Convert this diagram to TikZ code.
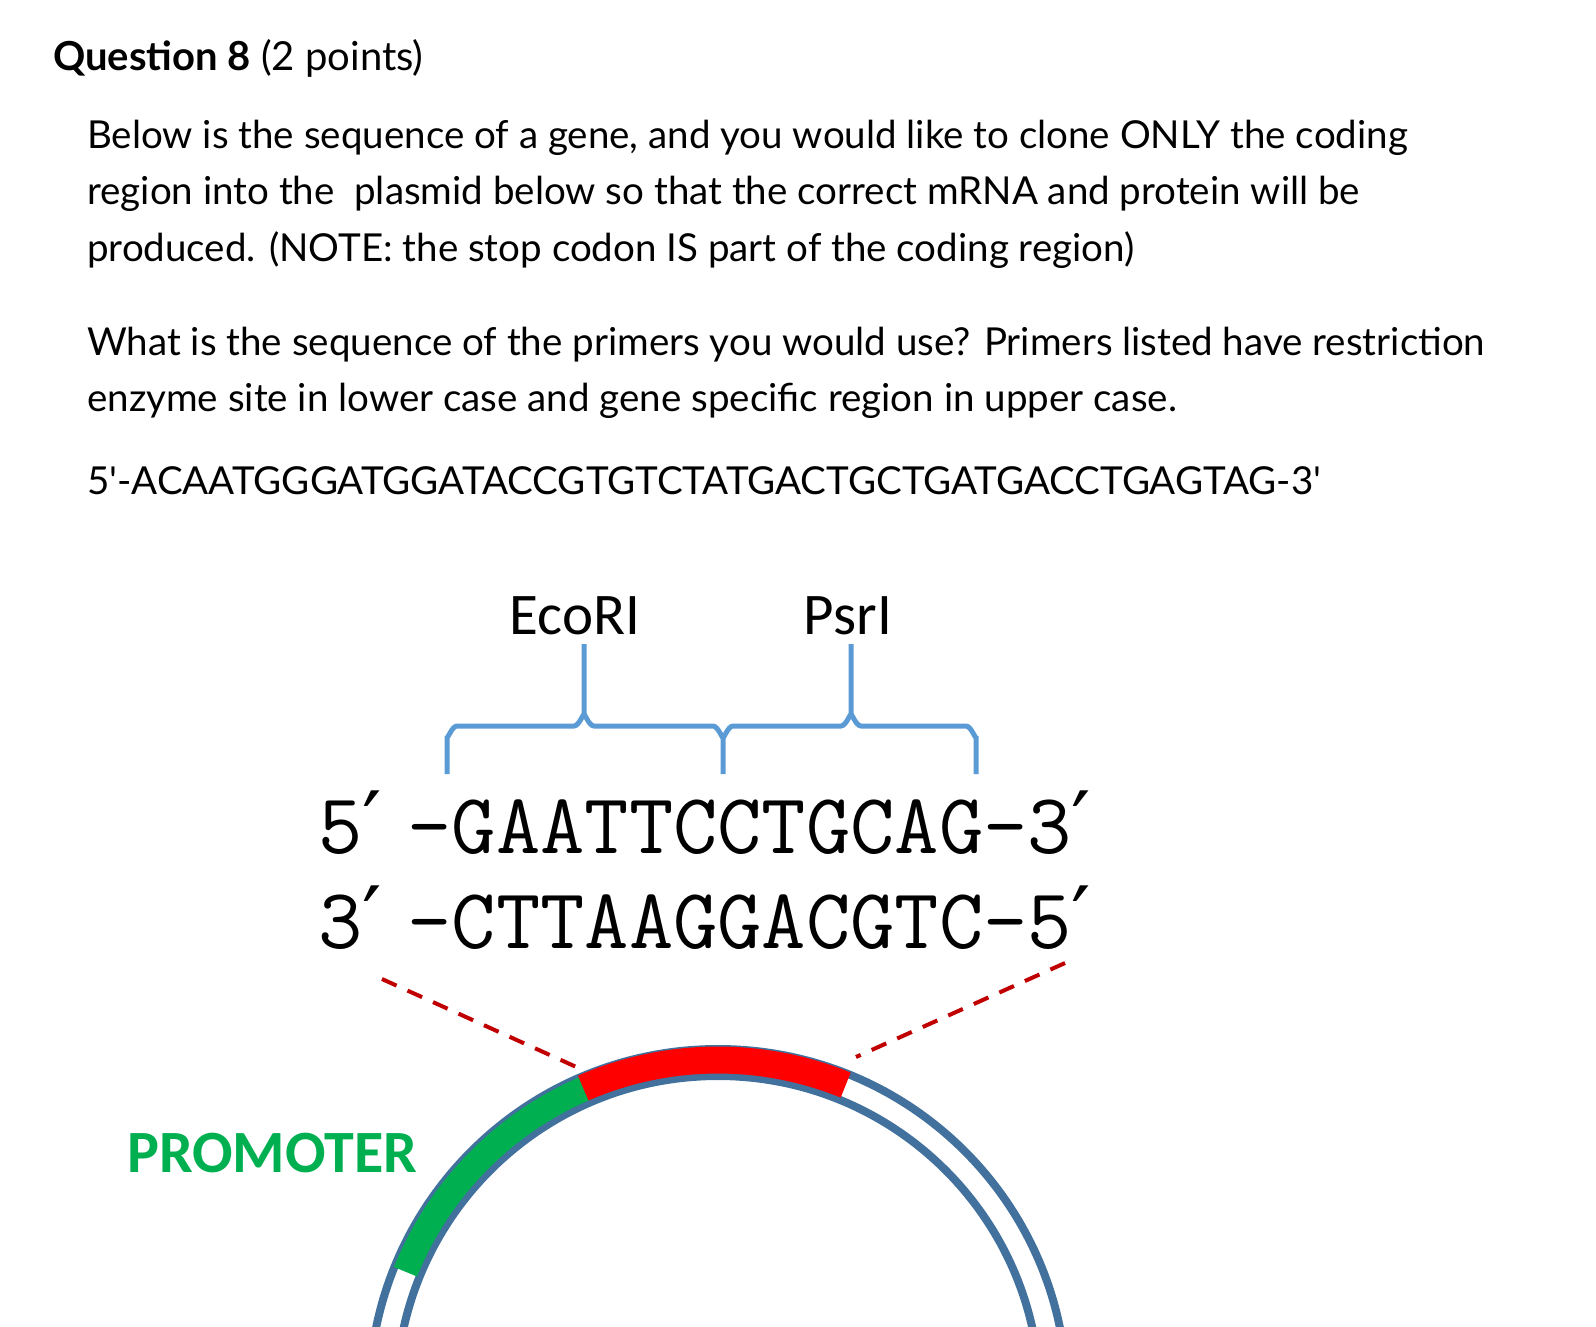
\documentclass[tikz,border=0pt]{standalone}
\usepackage{fontspec}
\defaultfontfeatures{}
\defaultfontfeatures[\rmfamily]{}
\setmainfont{Lato}
\newfontfamily\calib{Carlito}
\newfontfamily\dvs{DejaVu Sans}
\newfontfamily\lmmono{Latin Modern Mono}
\definecolor{braceblue}{HTML}{5B9BD5}
\definecolor{ringblue}{HTML}{41719C}
\definecolor{promgreen}{HTML}{00B050}
\definecolor{dashred}{HTML}{C00000}
\newcommand{\pr}{\makebox[0.525em][l]{\dvs\char"2032}}
\begin{document}
\begin{tikzpicture}[x=1pt,y=-1pt,
  body/.style={anchor=base west,inner sep=0,font=\fontsize{38.5}{40}\selectfont},
  brc/.style={draw=braceblue,line width=5pt},
  ring/.style={draw=ringblue,line width=8pt},
  cut/.style={draw=dashred,line width=4pt,dash pattern=on 16pt off 12pt}]
\useasboundingbox (0,0) rectangle (1596,1326);
\node[body,font=\fontsize{40}{40}\selectfont] (q) at (53,70) {\textbf{Question 8} (2 points)};
\node[body] (l1) at (87,148) {Below is the sequence of a gene, and you would like to clone ONLY the coding};
\node[body] (l2) at (87,204) {region into the\ \ plasmid below so that the correct mRNA and protein will be};
\node[body] (l3) at (87,261) {produced. (NOTE: the stop codon IS part of the coding region)};
\node[body] (l4) at (87,355) {What is the sequence of the primers you would use? Primers listed have restriction};
\node[body] (l5) at (87,411) {enzyme site in lower case and gene specific region in upper case.};
\node[body] (l6) at (87,494) {5\char"27-ACAATGGGATGGATACCGTGTCTATGACTGCTGATGACCTGAGTAG-3\char"27};
% braces
\draw[brc] (447,774) -- (447,736) to[out=-90,in=180] (457,726) -- (574,726) to[out=0,in=90] (584,716) -- (584,644);
\draw[brc] (584,716) to[out=90,in=180] (594,726) -- (713,726) to[out=0,in=-90] (723,736) -- (723,774);
\draw[brc] (723,736) to[out=-90,in=180] (733,726) -- (841,726) to[out=0,in=90] (851,716) -- (851,644);
\draw[brc] (851,716) to[out=90,in=180] (861,726) -- (966,726) to[out=0,in=-90] (976,736) -- (976,774);
\node[font=\calib\fontsize{59}{60}\selectfont,inner sep=0] (eco) at (575,616) {EcoRI};
\node[font=\calib\fontsize{59}{60}\selectfont,inner sep=0] (pst) at (848,616) {PsrI};
\node[anchor=base west,inner sep=0,font=\lmmono\fontsize{86}{86}\selectfont] (s1) at (318,853) {5\pr-GAATTCCTGCAG-3\pr};
\node[anchor=base west,inner sep=0,font=\lmmono\fontsize{86}{86}\selectfont] (s2) at (318,948) {3\pr-CTTAAGGACGTC-5\pr};
% plasmid
\coordinate (c) at (718,1398);
\draw[ring] (c) circle[radius=349];
\draw[ring] (c) circle[radius=322];
\draw[promgreen,line width=25pt] ([shift={(-113:337)}]718,1398) arc[start angle=-113,end angle=-158,radius=337];
\draw[red,line width=27pt] ([shift={(-67.8:338)}]718,1398) arc[start angle=-67.8,end angle=-113.5,radius=338];
\coordinate (d1) at (382,979); \coordinate (d2) at (583,1070);
\coordinate (d3) at (1065,963); \coordinate (d4) at (856,1057);
\draw[cut] (d1) -- (d2);
\draw[cut] (d3) -- (d4);
\node[anchor=west,inner sep=0,text=promgreen,font=\calib\bfseries\fontsize{60}{60}\selectfont] (prom) at (127,1153) {PROMOTER};
\end{tikzpicture}
\end{document}
